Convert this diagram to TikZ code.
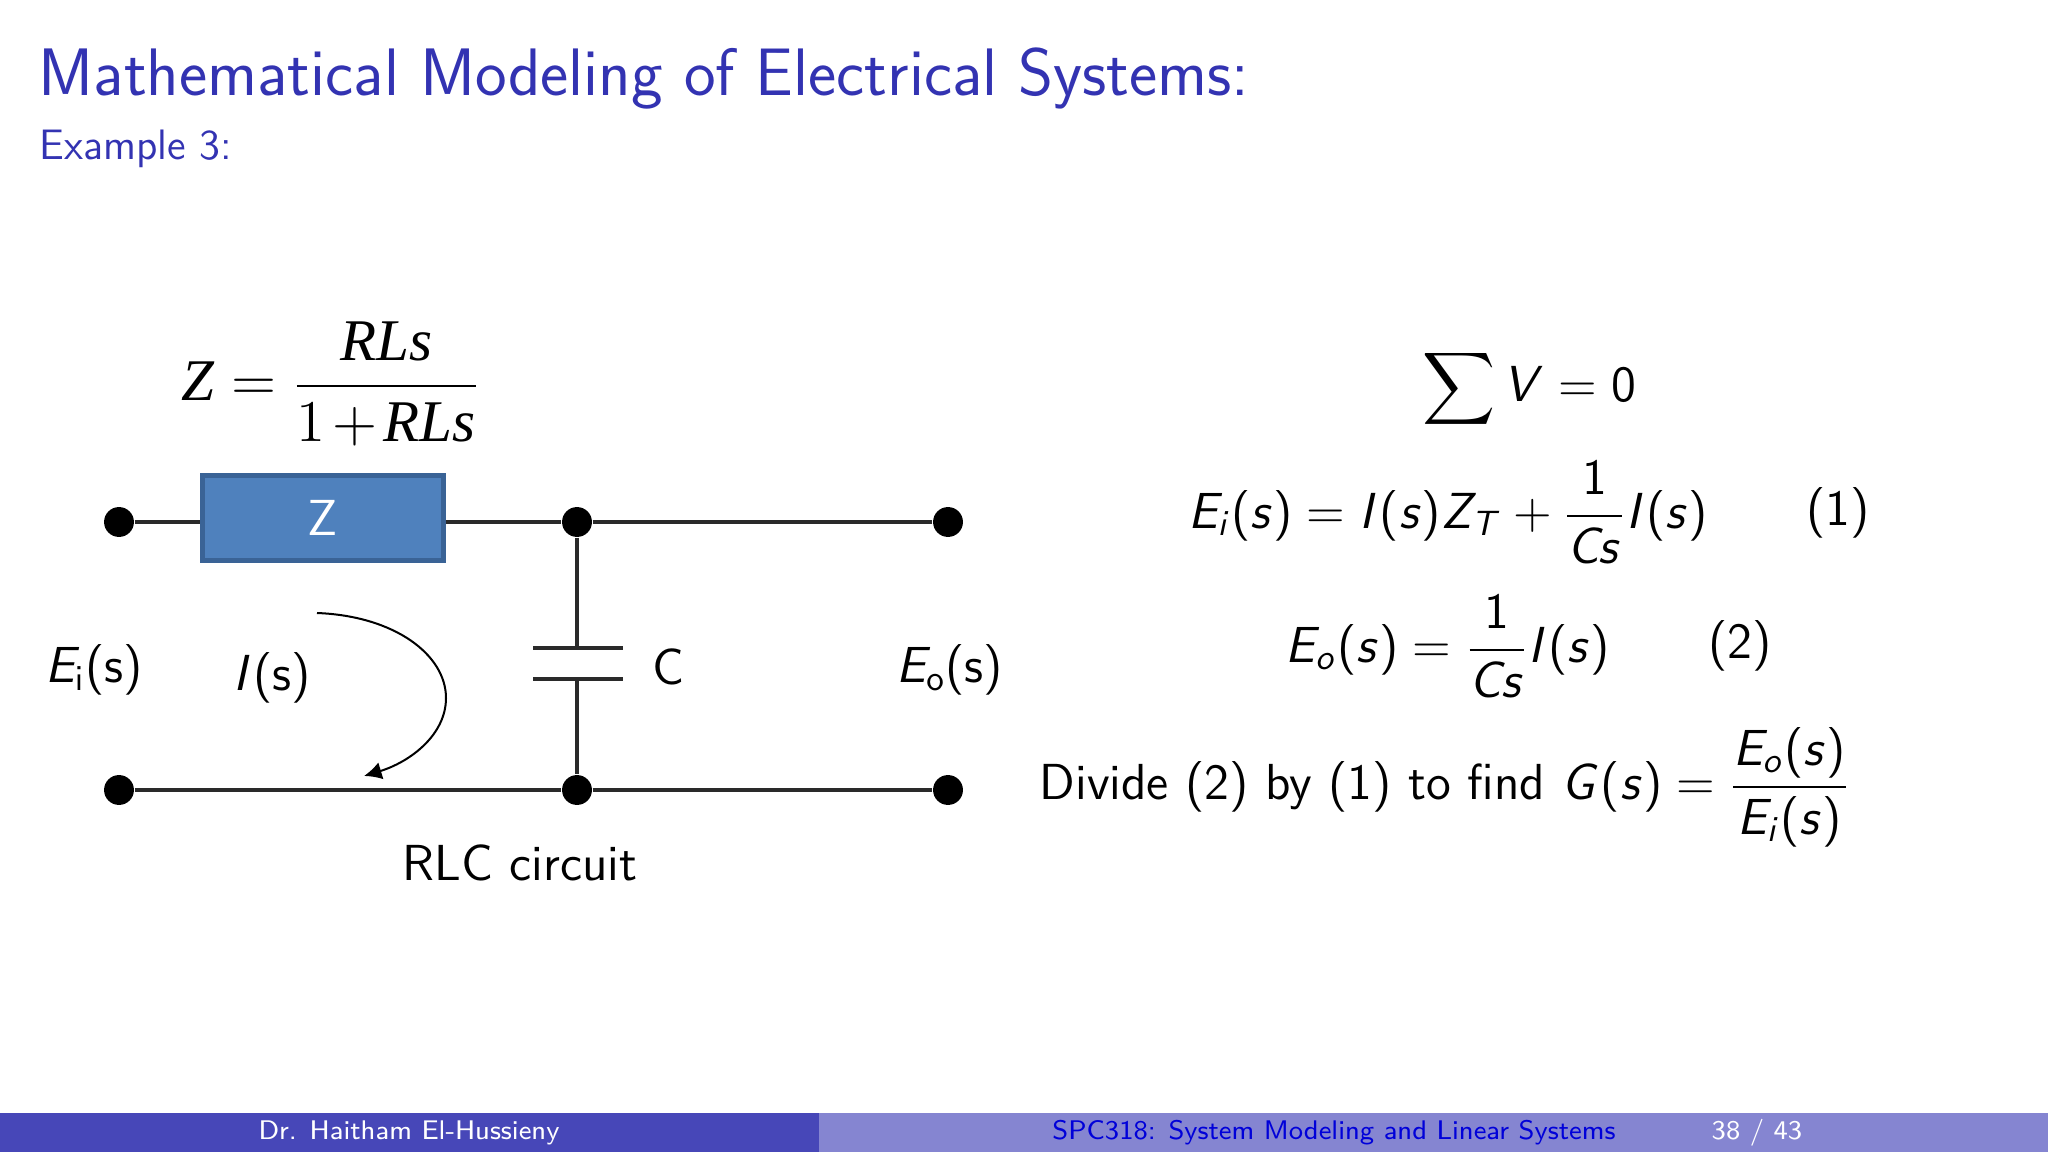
\documentclass[tikz,border=0pt]{standalone}
\usepackage{fix-cm}
\usepackage{amsmath}
\usepackage[no-math]{fontspec}
\newfontfamily\timesfont{Liberation Serif}
\DeclareMathVersion{sfmath}
\SetSymbolFont{operators}{sfmath}{OT1}{cmss}{m}{n}
\SetSymbolFont{letters}{sfmath}{OT1}{cmss}{m}{sl}
\usetikzlibrary{arrows.meta,calc,positioning}
\definecolor{titleblue}{HTML}{3333B2}
\definecolor{barleft}{HTML}{4747B8}
\definecolor{barright}{HTML}{8585D1}
\definecolor{boxblue}{HTML}{4F81BD}
\definecolor{boxedge}{HTML}{3A6396}
\definecolor{wire}{HTML}{2A2A2A}
\tikzset{
  term/.style={circle,fill=black,inner sep=0pt,minimum size=8.5pt},
  wireline/.style={line width=1.1pt,wire},
  eqn/.style={inner sep=0pt,font=\fontsize{14.4}{18}\selectfont\sffamily\mathversion{sfmath}},
  foot/.style={inner sep=0pt,font=\fontsize{7.66}{10}\selectfont\sffamily},
}
\begin{document}
\begin{tikzpicture}[x=0.01cm,y=-0.01cm,line cap=butt]
  \useasboundingbox (0,0) rectangle (2048,1152);
  % Title and subtitle
  \node[anchor=west,inner sep=0pt,titleblue,font=\fontsize{19.1}{23}\selectfont\sffamily] (title) at (38,79) {Mathematical Modeling of Electrical Systems:};
  \node[anchor=west,inner sep=0pt,titleblue,font=\fontsize{12.1}{15}\selectfont\sffamily] (subtitle) at (39,149) {Example 3:};

  % Circuit terminals
  \node[term] (tl) at (119,522) {};
  \node[term] (tm) at (577,522) {};
  \node[term] (tr) at (948,522) {};
  \node[term] (bl) at (119,790) {};
  \node[term] (bm) at (577,790) {};
  \node[term] (br) at (948,790) {};
  \node[draw=boxedge,line width=1.2pt,fill=boxblue,text=white,minimum width=241*0.01cm,minimum height=85*0.01cm,inner sep=0pt,font=\fontsize{14.4}{18}\selectfont\sffamily] (zbox) at (323,518) {Z};

  % Capacitor plates
  \coordinate (capa) at (577,648);
  \coordinate (capb) at (577,679);
  \draw[wireline] (533,648) -- (623,648);
  \draw[wireline] (533,679) -- (623,679);

  % Wires
  \draw[wireline] (tl) -- (tl -| zbox.west);
  \draw[wireline] (tm -| zbox.east) -- (tm);
  \draw[wireline] (tm) -- (tr);
  \draw[wireline] (bl) -- (bm);
  \draw[wireline] (bm) -- (br);
  \draw[wireline] (tm) -- (capa);
  \draw[wireline] (capb) -- (bm);

  % Current arrow
  \coordinate (arrstart) at (317,613);
  \coordinate (arrend) at (364,776);
  \draw[-{Latex[length=5pt,width=5pt]},line width=0.57pt] (arrstart) .. controls (395,616) and (446,655) .. (446,698) .. controls (446,735) and (410,762) .. (arrend);

  % Circuit labels
  \node[eqn] (ein) at (94,670) {$E_{\mathrm{i}}(\mathrm{s})$};
  \node[eqn] (is) at (272,678) {$I(\mathrm{s})$};
  \node[eqn] (clabel) at (668,667) {C};
  \node[eqn] (eout) at (950,670) {$E_{\mathrm{o}}(\mathrm{s})$};
  \node[eqn] (cap) at (520,863) {RLC circuit};
  \node[inner sep=0pt,font=\fontsize{16.8}{21}\selectfont\timesfont] (zeq) at (331,384) {$\displaystyle \textit{Z} = \genfrac{}{}{0.7pt}{0}{\textit{RLs}}{\rule{0pt}{13pt}1\mkern2mu{+}\mkern2mu\textit{RLs}}$};

  % Right equations
  \node[eqn] (sumv) at (1529,389) {$\displaystyle\sum V=0$};
  \node[eqn] (eq1) at (1448,512) {$\displaystyle E_i(s)=I(s)Z_T+\frac{1}{Cs}I(s)$};
  \node[eqn] (num1) at (1838,513) {(1)};
  \node[eqn] (eq2) at (1448,646) {$\displaystyle E_o(s)=\frac{1}{Cs}I(s)$};
  \node[eqn] (num2) at (1740,646) {(2)};
  \node[eqn] (eq3) at (1445,787) {Divide (2) by (1) to find $\displaystyle G(s)=\frac{E_o(s)}{E_i(s)}$};

  % Footer
  \fill[barleft] (0,1113) rectangle (819,1152);
  \fill[barright] (819,1113) rectangle (2048,1152);
  \node[foot,text=white] (author) at (409,1133) {Dr. Haitham El-Hussieny};
  \node[foot,text=blue!85!black] (course) at (1334,1133) {SPC318: System Modeling and Linear Systems};
  \node[foot,text=white] (page) at (1757,1133) {38 / 43};
\end{tikzpicture}
\end{document}
